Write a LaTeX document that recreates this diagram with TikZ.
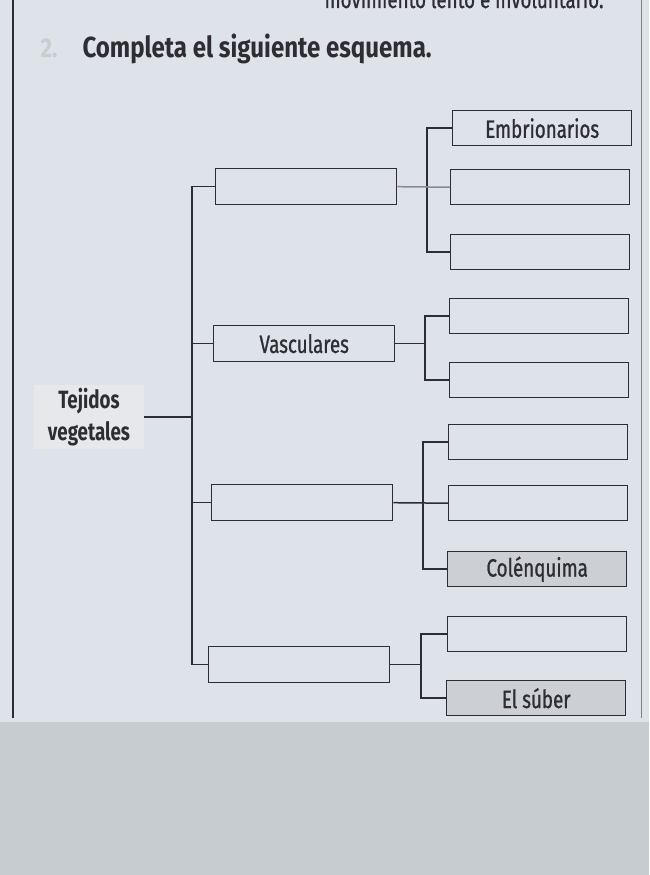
\documentclass[tikz,border=0pt]{standalone}
\usepackage{fontspec}
\setmainfont{Fira Sans}
\newfontfamily\condfont{Fira Sans}[FakeStretch=0.75]
\newfontfamily\condmed{Fira Sans}[FakeStretch=0.75, FakeBold=0.9]
\newfontfamily\titlefont{Fira Sans}[FakeStretch=0.83]
\usetikzlibrary{positioning}
\definecolor{paper}{RGB}{222,227,233}
\definecolor{shadow}{RGB}{199,204,209}
\definecolor{ink}{RGB}{45,45,50}
\definecolor{filled}{RGB}{204,207,211}
\definecolor{labelbg}{RGB}{230,232,235}
\tikzset{
    blank/.style={rectangle, draw=ink, line width=1.4pt, minimum width=179pt, minimum height=35pt, inner sep=0pt, anchor=north west, font=\condmed\fontsize{25}{27}\selectfont, text=ink},
    given/.style={blank, fill=filled},
    midbox/.style={blank, minimum width=181pt, minimum height=36pt},
    link/.style={draw=ink, line width=1.5pt}
}

\begin{document}
\begin{tikzpicture}[x=1pt, y=-1pt]

% Page and shadow
\useasboundingbox (0,0) rectangle (649,875);
\fill[paper] (0,0) rectangle (649,722);
\fill[shadow] (0,722) rectangle (649,875);
\draw[ink, line width=1.6pt] (13,0) -- (13,718);
\draw[ink!60, line width=0.8pt] (641,0) -- (641,718);

% Heading
\node (prev) [anchor=base east, font=\condmed\fontsize{25}{27}\selectfont, text=ink] at (607,8) {movimiento lento e involuntario.};
\node (num) [anchor=base west, font=\titlefont\bfseries\fontsize{27}{29}\selectfont, text=gray!40] at (37,57) {2.};
\node (title) [anchor=base west, font=\titlefont\bfseries\fontsize{29}{31}\selectfont, text=ink] at (79,57) {Completa el siguiente esquema.};

% Root
\node (tejidos) [fill=labelbg, align=center, inner sep=0pt, minimum width=110pt, minimum height=64pt, font=\condfont\bfseries\fontsize{25}{32}\selectfont, text=ink] at (89,417) {Tejidos\\vegetales};

% Second column
\node (midA) [midbox] at (215,168) {};
\node (vasc) [midbox] at (213,325) {Vasculares};
\node (midC) [midbox] at (211,484) {};
\node (midD) [midbox] at (208,646) {};

% Third column
\node (embr) [blank] at (452,110) {Embrionarios};
\node (r2) [blank] at (450,169) {};
\node (r3) [blank] at (450,234) {};
\node (r4) [blank] at (449,298) {};
\node (r5) [blank] at (449,362) {};
\node (r6) [blank] at (448,424) {};
\node (r7) [blank] at (448,485) {};
\node (colen) [given] at (447,551) {Colénquima};
\node (r9) [blank] at (447,616) {};
\node (suber) [given] at (446,680) {El súber};

% Main bracket
\coordinate (spine) at (192,0);
\draw[link] (tejidos.east) -- (tejidos.east -| spine);
\draw[link] (midA.west) -- (midA.west -| spine) -- (midD.west -| spine) -- (midD.west);
\draw[link] (vasc.west) -- (vasc.west -| spine);
\draw[link] (midC.west) -- (midC.west -| spine);

% Right brackets
\coordinate (forkA) at (427,0);
\coordinate (forkB) at (425,0);
\coordinate (forkC) at (423,0);
\coordinate (forkD) at (421,0);
\draw[link] (embr.west) -- (embr.west -| forkA) -- (r3.west -| forkA) -- (r3.west);
\draw[link, draw=ink!55] (midA.east) -- (r2.west);
\draw[link] (vasc.east) -- (vasc.east -| forkB);
\draw[link] (r4.west) -- (r4.west -| forkB) -- (r5.west -| forkB) -- (r5.west);
\draw[link] (r6.west) -- (r6.west -| forkC) -- (colen.west -| forkC) -- (colen.west);
\draw[link] (midC.east) -- (r7.west);
\draw[link] (midD.east) -- (midD.east -| forkD);
\draw[link] (r9.west) -- (r9.west -| forkD) -- (suber.west -| forkD) -- (suber.west);

\end{tikzpicture}
\end{document}
